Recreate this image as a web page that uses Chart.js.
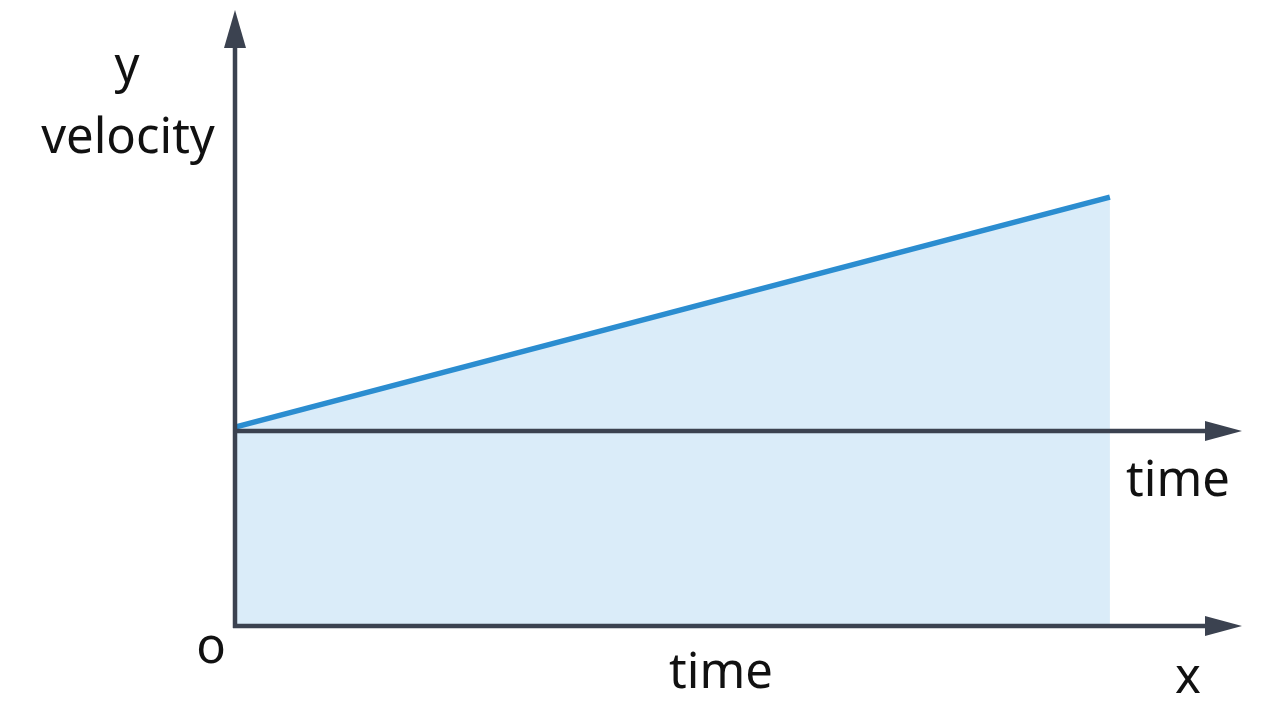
<!DOCTYPE html>
<html>
<head>
<meta charset="utf-8">
<script src="https://cdn.jsdelivr.net/npm/chart.js@4"></script>
<style>
html,body{margin:0;padding:0;background:#fff;}
canvas{display:block;}
</style>
</head>
<body>
<canvas id="c" width="1280" height="720"></canvas>
<script>
const time = [0, 10];
const velocity = [1.02, 2.2];
const timeAxisVelocity = 1.0;
const labels = { y: 'y', velocity: 'velocity', timeMid: 'time', origin: 'o', timeBottom: 'time', x: 'x' };

const axisColor = '#3b4250';
const FONT = '49px "Noto Sans", "Open Sans", sans-serif';

function arrowRight(ctx, xBase, xTip, y, half) {
  ctx.beginPath();
  ctx.moveTo(xBase, y - half);
  ctx.lineTo(xTip, y);
  ctx.lineTo(xBase, y + half);
  ctx.closePath();
  ctx.fill();
}

const axesPlugin = {
  id: 'axesPlugin',
  afterDatasetsDraw(chart) {
    const ctx = chart.ctx;
    const xs = chart.scales.x, ys = chart.scales.y;
    const x0 = xs.getPixelForValue(0);
    const xEnd = xs.right;
    const y0 = ys.getPixelForValue(0);
    const yTop = ys.top;
    const yMid = ys.getPixelForValue(timeAxisVelocity);
    ctx.save();
    ctx.strokeStyle = axisColor;
    ctx.fillStyle = axisColor;
    ctx.lineWidth = 4.5;
    // vertical axis
    ctx.beginPath();
    ctx.moveTo(x0, y0 + 2);
    ctx.lineTo(x0, yTop + 30);
    ctx.stroke();
    ctx.beginPath();
    ctx.moveTo(x0, yTop);
    ctx.lineTo(x0 + 11, yTop + 38);
    ctx.lineTo(x0 - 11, yTop + 38);
    ctx.closePath();
    ctx.fill();
    // bottom axis
    ctx.beginPath();
    ctx.moveTo(x0 - 2, y0);
    ctx.lineTo(xEnd - 30, y0);
    ctx.stroke();
    arrowRight(ctx, xEnd - 37, xEnd, y0, 10);
    // middle time axis
    ctx.beginPath();
    ctx.moveTo(x0, yMid);
    ctx.lineTo(xEnd - 30, yMid);
    ctx.stroke();
    arrowRight(ctx, xEnd - 37, xEnd, yMid, 10);
    // text
    ctx.fillStyle = '#111';
    ctx.font = FONT;
    ctx.textAlign = 'center';
    ctx.textBaseline = 'alphabetic';
    ctx.fillText(labels.y, 127, 82);
    ctx.fillText(labels.velocity, 128, 153);
    ctx.fillText(labels.timeMid, 1178, 496);
    ctx.fillText(labels.origin, 211, 663);
    ctx.fillText(labels.timeBottom, 721, 688);
    ctx.fillText(labels.x, 1188, 693);
    ctx.restore();
  }
};

new Chart(document.getElementById('c'), {
  type: 'line',
  data: {
    datasets: [{
      data: time.map((t, i) => ({ x: t, y: velocity[i] })),
      borderColor: '#2b8dd0',
      borderWidth: 5.5,
      backgroundColor: '#daecf9',
      fill: 'origin',
      pointRadius: 0,
      tension: 0,
      clip: false
    }]
  },
  options: {
    responsive: false,
    animation: false,
    devicePixelRatio: 1,
    layout: { padding: { left: 235, right: 38, top: 10, bottom: 94 } },
    plugins: { legend: { display: false }, tooltip: { enabled: false } },
    scales: {
      x: { type: 'linear', min: 0, max: 11.51, display: false },
      y: { type: 'linear', min: 0, max: 3.16, display: false }
    }
  },
  plugins: [axesPlugin]
});
</script>
</body>
</html>
